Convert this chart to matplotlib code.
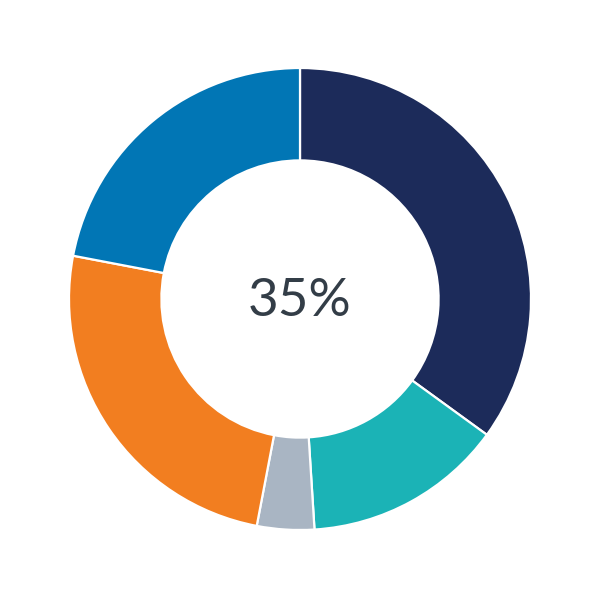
import matplotlib
matplotlib.use('Agg')
import matplotlib.pyplot as plt

# data
values = [35, 14, 4, 25, 22]
colors = ['#1c2b5a', '#1bb3b6', '#a9b5c3', '#f27e20', '#0176b5']
center_label = '35%'

fig = plt.figure(figsize=(6, 5.99), dpi=100)
ax = fig.add_axes([0, 0, 1, 1])

ax.pie(values, colors=colors, startangle=90, counterclock=False, radius=1,
       wedgeprops=dict(width=0.4, edgecolor='white', linewidth=1.6))
ax.text(0, -0.01, center_label, ha='center', va='center', fontsize=38,
        color='#333d47', family=['Lato', 'DejaVu Sans'])

ax.set_xlim(-300 / 231, 300 / 231)
ax.set_ylim(-300 / 231, 299 / 231)
ax.set_aspect('equal')
ax.axis('off')

fig.savefig('out.png', dpi=100, facecolor='white')
